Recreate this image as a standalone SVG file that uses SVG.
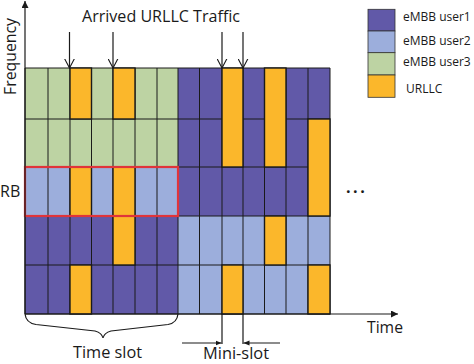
<svg xmlns="http://www.w3.org/2000/svg" width="474" height="364" viewBox="0 0 474 364">
<style>
.d{fill:#6159a8}.l{fill:#9caedc}.g{fill:#bdd3a3}.o{fill:#fbb72b;stroke:#1a1a1a;stroke-width:1.4}
.gl{stroke:#1a1a1a;stroke-width:1;fill:none}
.ln{stroke:#1a1a1a;stroke-width:1.2;fill:none}
.t{font-family:"Open Sans","Noto Sans",sans-serif;fill:#1a1a1a}
.lg{stroke:#333;stroke-width:0.8}
</style>
<defs>
<marker id="fa" viewBox="0 0 10 10" refX="10" refY="5" markerWidth="8" markerHeight="7" markerUnits="userSpaceOnUse" orient="auto"><path d="M0,0 L10,5 L0,10 z" fill="#1a1a1a"/></marker>
<marker id="sa" viewBox="0 0 10 10" refX="10" refY="5" markerWidth="6" markerHeight="6" markerUnits="userSpaceOnUse" orient="auto"><path d="M0,1 L10,5 L0,9 z" fill="#1a1a1a"/></marker>
<marker id="oa" viewBox="0 0 10 10" refX="9.5" refY="5" markerWidth="10" markerHeight="11" markerUnits="userSpaceOnUse" orient="auto"><path d="M0,0 L9.5,5 L0,10" fill="none" stroke="#1a1a1a" stroke-width="1.1"/></marker>
</defs>

<g id="grid">
<rect class="g" x="25" y="68" width="153" height="99"/>
<rect class="d" x="178" y="68" width="152" height="148"/>
<rect class="l" x="25" y="167" width="153" height="49"/>
<rect class="d" x="25" y="216" width="153" height="98"/>
<rect class="l" x="178" y="216" width="152" height="98"/>
<path class="gl" d="M25,68H330M25,119H330M25,167H330M25,216H330M25,265H330M25,314H330
M25,68V314M48,68V314M70,68V314M91.5,68V314M113,68V314M135,68V314M157,68V314M178,68V314M199.5,68V314M222,68V314M243,68V314M264.5,68V314M286,68V314M308,68V314M330,68V314"/>
</g>

<g id="urllc-cells">
<rect class="o" x="70" y="68" width="21.5" height="51"/>
<rect class="o" x="113" y="68" width="22" height="51"/>
<rect class="o" x="222" y="68" width="21" height="99"/>
<rect class="o" x="264.5" y="68" width="21.5" height="99"/>
<rect class="o" x="308" y="119" width="22" height="97"/>
<rect class="o" x="70" y="167" width="21.5" height="49"/>
<rect class="o" x="113" y="167" width="22" height="49"/>
<rect class="o" x="113" y="216" width="22" height="49"/>
<rect class="o" x="264.5" y="216" width="21.5" height="49"/>
<rect class="o" x="70" y="265" width="21.5" height="49"/>
<rect class="o" x="222" y="265" width="21" height="49"/>
<rect class="o" x="308" y="265" width="22" height="49"/>
</g>

<g id="rb-highlight">
<rect x="25" y="167" width="153" height="49" fill="none" stroke="#e0343a" stroke-width="2.2"/>
</g>

<g id="legend">
<rect class="d lg" x="368" y="9.3" width="27" height="21.7"/>
<rect class="l lg" x="368" y="31" width="27" height="21.7"/>
<rect class="g lg" x="368" y="52.7" width="27" height="22.3"/>
<rect x="368" y="75" width="27" height="22.3" fill="#fbb72b" stroke="#333" stroke-width="0.8"/>
<text class="t" x="403" y="21" font-size="12">eMBB user1</text>
<text class="t" x="403" y="45" font-size="12">eMBB user2</text>
<text class="t" x="403" y="66" font-size="12">eMBB user3</text>
<text class="t" x="406" y="93" font-size="12">URLLC</text>
</g>

<g id="connectors">
<path class="ln" d="M25,314V1" marker-end="url(#fa)"/>
<path class="ln" d="M25,314H398" marker-end="url(#fa)"/>
<path class="ln" d="M69.5,32V68" marker-end="url(#oa)"/>
<path class="ln" d="M113,32V68" marker-end="url(#oa)"/>
<path class="ln" d="M222,32V68" marker-end="url(#oa)"/>
<path class="ln" d="M243,32V68" marker-end="url(#oa)"/>
<path class="ln" d="M222,314V344M243,314V344"/>
<path class="ln" d="M182,343H221.5" marker-end="url(#sa)"/>
<path class="ln" d="M280,343H243.5" marker-end="url(#sa)"/>
<path class="ln" d="M25,314Q26,323 36,324.5L95,331Q102,333 103,338Q104,333 111,331L168,324.5Q177,323 178,314"/>
</g>

<g id="labels">
<text class="t" x="82" y="22" font-size="16" textLength="158" lengthAdjust="spacingAndGlyphs">Arrived URLLC Traffic</text>
<text class="t" transform="translate(16,95) rotate(-90)" font-size="16" textLength="77" lengthAdjust="spacingAndGlyphs">Frequency</text>
<text class="t" x="0" y="197" font-size="16">RB</text>
<text class="t" x="346" y="193" font-size="16" font-weight="bold" letter-spacing="2.5">...</text>
<text class="t" x="367" y="333" font-size="16" textLength="36" lengthAdjust="spacingAndGlyphs">Time</text>
<text class="t" x="73" y="358" font-size="16" textLength="69" lengthAdjust="spacingAndGlyphs">Time slot</text>
<text class="t" x="203" y="359" font-size="16" textLength="66" lengthAdjust="spacingAndGlyphs">Mini-slot</text>
</g>
</svg>
